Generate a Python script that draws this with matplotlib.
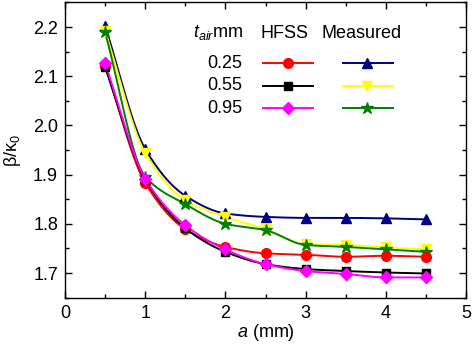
import numpy as np
import matplotlib
matplotlib.use("Agg")
import matplotlib.pyplot as plt
from matplotlib.ticker import MultipleLocator

plt.rcParams['font.family'] = ['Liberation Sans', 'DejaVu Sans']
plt.rcParams['mathtext.fontset'] = 'custom'
plt.rcParams['mathtext.rm'] = 'Liberation Sans'
plt.rcParams['mathtext.it'] = 'Liberation Sans:italic'
plt.rcParams['mathtext.bf'] = 'Liberation Sans:bold'

a_mm = [0.5, 1.0, 1.5, 2.0, 2.5, 3.0, 3.5, 4.0, 4.5]

hfss_025 = [2.121, 1.883, 1.789, 1.753, 1.740, 1.737, 1.733, 1.735, 1.733]
hfss_055 = [2.118, 1.890, 1.791, 1.743, 1.718, 1.708, 1.704, 1.701, 1.699]
hfss_095 = [2.126, 1.892, 1.797, 1.748, 1.718, 1.704, 1.698, 1.691, 1.691]
meas_025 = [2.202, 1.952, 1.857, 1.821, 1.814, 1.812, 1.812, 1.811, 1.809]
meas_055 = [2.192, 1.944, 1.848, 1.814, 1.789, 1.758, 1.757, 1.752, 1.748]
meas_095 = [2.189, 1.896, 1.840, 1.800, 1.787, 1.757, 1.753, 1.748, 1.743]

thickness_labels = ['0.25', '0.55', '0.95']
x_ticks = [0, 1, 2, 3, 4, 5]
y_ticks = [1.7, 1.8, 1.9, 2.0, 2.1, 2.2]

FS = 13


def pchip(x, y, xs):
    x = np.asarray(x, float)
    y = np.asarray(y, float)
    h = np.diff(x)
    d = np.diff(y) / h
    n = len(x)
    m = np.zeros(n)
    for k in range(1, n - 1):
        if d[k - 1] * d[k] <= 0:
            m[k] = 0
        else:
            w1 = 2 * h[k] + h[k - 1]
            w2 = h[k] + 2 * h[k - 1]
            m[k] = (w1 + w2) / (w1 / d[k - 1] + w2 / d[k])
    m[0] = d[0]
    m[-1] = d[-1]
    out = np.empty_like(xs)
    for i, xv in enumerate(xs):
        k = min(max(np.searchsorted(x, xv) - 1, 0), n - 2)
        t = (xv - x[k]) / h[k]
        h00 = 2 * t**3 - 3 * t**2 + 1
        h10 = t**3 - 2 * t**2 + t
        h01 = -2 * t**3 + 3 * t**2
        h11 = t**3 - t**2
        out[i] = h00 * y[k] + h10 * h[k] * m[k] + h01 * y[k + 1] + h11 * h[k] * m[k + 1]
    return out


fig = plt.figure(figsize=(4.74, 3.44), dpi=100)
ax = fig.add_axes([65 / 474, 1 - 297.6 / 344, 401 / 474, 295.2 / 344])

series = [
    (meas_025, '#000080', '^', 7),
    (meas_055, '#ffff00', 'v', 7),
    (meas_095, '#008000', '*', 9),
    (hfss_025, '#ff0000', 'o', 7),
    (hfss_055, '#000000', 's', 6),
    (hfss_095, '#ff00ff', 'D', 6),
]

xs = np.linspace(a_mm[0], a_mm[-1], 300)
for vals, col, mk, ms in series:
    ax.plot(xs, pchip(a_mm, vals, xs), color=col, lw=1.4, zorder=2)
    ax.plot(a_mm, vals, linestyle='none', marker=mk, color=col, ms=ms, zorder=3)

ax.set_xlim(0, 5)
ax.set_ylim(1.65, 2.25)
ax.set_xticks(x_ticks)
ax.set_xticklabels([str(v) for v in x_ticks])
ax.set_yticks(y_ticks)
ax.set_yticklabels([f'{v:.1f}' for v in y_ticks])
ax.xaxis.set_minor_locator(MultipleLocator(0.5))
ax.yaxis.set_minor_locator(MultipleLocator(0.05))
ax.tick_params(which='both', direction='in', top=True, right=True, labelsize=FS, width=1)
ax.tick_params(which='major', length=5)
ax.tick_params(which='minor', length=3)
ax.tick_params(axis='y', pad=5)
ax.tick_params(axis='x', pad=5)
for s in ax.spines.values():
    s.set_linewidth(1)

ax.set_xlabel(r'$a$ (mm)', fontsize=FS, labelpad=0)
ax.set_ylabel(r'$\mathrm{\beta/\kappa_0}$', fontsize=FS, labelpad=7)


def fx(px):
    return (px - 65) / 401


def fy(py):
    return 1 - (py - 2.4) / 295.2


T = ax.transAxes
ax.text(fx(218), fy(33), r'$t_{air}$mm', transform=T, ha='center', va='center', fontsize=FS)
ax.text(fx(284), fy(33), 'HFSS', transform=T, ha='center', va='center', fontsize=FS)
ax.text(fx(362), fy(33), 'Measured', transform=T, ha='center', va='center', fontsize=FS)

rows_y = [63, 86, 108]
hfss_styles = series[3:]
meas_styles = series[:3]
for lab, ry, hs, ms_ in zip(thickness_labels, rows_y, hfss_styles, meas_styles):
    yy = fy(ry)
    ax.text(fx(242), yy, lab, transform=T, ha='right', va='center', fontsize=FS)
    ax.plot([fx(263), fx(313)], [yy, yy], color=hs[1], lw=1.4, transform=T)
    ax.plot([fx(288)], [yy], marker=hs[2], color=hs[1], ms=hs[3], transform=T, linestyle='none')
    ax.plot([fx(343), fx(393)], [yy, yy], color=ms_[1], lw=1.4, transform=T)
    ax.plot([fx(367)], [yy], marker=ms_[2], color=ms_[1], ms=ms_[3], transform=T, linestyle='none')

fig.savefig('out.png', dpi=100)
